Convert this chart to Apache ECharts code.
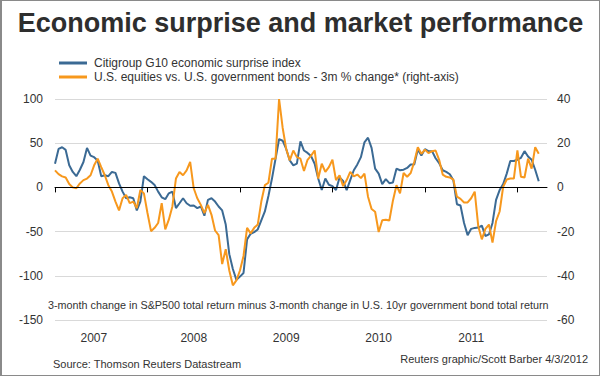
<!DOCTYPE html>
<html>
<head>
<meta charset="utf-8">
<script src="https://cdn.jsdelivr.net/npm/echarts@6/dist/echarts.min.js"></script>
<style>
  html, body { margin: 0; padding: 0; background: #fff; }
  #chart { width: 600px; height: 376px; box-sizing: border-box; border: 1px solid #8a8a8a; border-left: 2px solid #8a8a8a; }
</style>
</head>
<body>
<div id="chart"></div>
<script>
// biweekly readings, first point at start of 2007
const startYear = 2007;
const perYear = 26;

const surprise = [
  26.8, 43.5, 45.4, 42.4, 25, 17.5, 12.7, 20, 28.7, 44.7, 36, 34.2, 30.5, 12.7, 13.8, 12.7,
  17.5, 16.4, 4.5, -4.8, -12.3, -11.2, -12.3, -26, -16, 12.7, 9.3, 6.3, 2.6, -4.8, -11.2, -13.4,
  -6.7, -4.8, -23.4, -17.9, -12.3, -17.9, -20.8, -20.5, -23.4, -21.6, -32, -14.1, -12.3, -16, -21.6, -26,
  -42, -75.5, -92.3, -104.6, -100.9, -96.8, -58.8, -52.5, -50.6, -47.6, -37.2, -27.2, -9.7, 10, 32.4, 54.7,
  52.8, 43.5, 30.5, 25, 26.8, 52, 41.7, 39, 35.4, 26.8, 10, -3, 10, 3, 1.5, -3,
  11.2, 7.4, -3, 8.2, 19.4, 26, 34.2, 51, 56.2, 44.7, 21.2, 15.6, 3.7, 9.3, 4.8, 5.6,
  21.2, 19.4, 20, 22, 26, 26, 42.8, 36, 43.2, 41, 41, 33, 27.5, 19.4, 17.5, 14.9,
  8, -19, -20.5, -40.2, -54, -46.9, -45.8, -45.4, -43.2, -55, -53.2, -40.2, -14.1, -3, 3.7, 15.6,
  29.8, 29.8, 31.3, 33.5, 41, 35, 31.3, 20, 7
];

const equitiesVsBonds = [
  7.7, 6, 5, 4.5, 1.5, 0, -0.4, 1.8, 3.3, 4, 5.5, 10, 13, 9.2, 5.5, 1,
  -1.9, -6.4, -10.4, -4.9, -3.4, -7.1, -6.4, -9.4, -1.2, -2.7, -11.6, -19.8, -18.3, -16.1, -7.1, -19,
  -14.6, -8.6, 4, 7, 5.5, 7.7, 11.5, -0.4, -4.9, -7.9, -11.6, -7.9, -12.4, -19.5, -21.6, -34.7,
  -28, -37.6, -44.3, -42.1, -37.6, -31, -18.3, -20.8, -18.3, -16.8, -6.4, 1, 2.1, 13, 13, 40,
  27, 17.4, 12.2, 16.7, 13.7, 13, 7.4, 12.5, 14.4, 16.7, 4, 10.7, 7, 9.2, 12.5, 3.3,
  5.5, 0.6, 3.3, 7, 5, 5.8, 4.2, 6.2, -4.2, -9.8, -11, -20.2, -14.9, -14.6, -15, -6,
  1, -2.7, 6.5, 4.8, 6.5, 11.5, 18.2, 15.2, 17.1, 15.5, 16.4, 16.7, 12.5, 5.8, 4.8, 4.5,
  3.5, -4.2, -5.2, -6.8, -6.8, -4.9, -1.9, -17.6, -23.5, -18.8, -16.8, -25, -15.3, -10.9, 0.3, 3.6,
  4, 4, 16.7, 4.8, 4.5, 13, 8.5, 18.2, 15.2
];

const yearTicks = [2007, 2008, 2009, 2010, 2011, 2012];
const yearLabelPos = [2007.42, 2008.5, 2009.5, 2010.5, 2011.5];

const toPairs = arr => arr.map((v, i) => [startYear + i / perYear, v]);

const txt = '#333';
const font = 'Liberation Sans, Arial, sans-serif';

const chart = echarts.init(document.getElementById('chart'), null, { renderer: 'svg' });
chart.setOption({
  animation: false,
  textStyle: { fontFamily: font },
  title: [
    { text: 'Economic surprise and market performance', left: 'center', top: 3,
      textStyle: { fontSize: 27, fontWeight: 'bold', color: '#2e2e2e', fontFamily: font } },
    { text: '3-month change in S&P500 total return minus 3-month change in U.S. 10yr government bond total return',
      left: 46, top: 298, padding: 0, textStyle: { fontSize: 10.8, fontWeight: 'normal', color: txt, fontFamily: font } },
    { text: 'Source: Thomson Reuters Datastream', left: 51, top: 357, padding: 0,
      textStyle: { fontSize: 11, fontWeight: 'normal', color: txt, fontFamily: font } },
    { text: 'Reuters graphic/Scott Barber 4/3/2012', right: 11, top: 352, padding: 0,
      textStyle: { fontSize: 11, fontWeight: 'normal', color: txt, fontFamily: font } }
  ],
  legend: {
    orient: 'vertical', left: 57, top: 56, itemGap: 2, itemWidth: 28, itemHeight: 3,
    icon: 'rect', padding: 0,
    textStyle: { fontSize: 12, color: txt, fontFamily: font, padding: [0, 0, 0, 2] },
    data: ['Citigroup G10 economic surprise index', 'U.S. equities vs. U.S. government bonds - 3m % change* (right-axis)']
  },
  grid: { left: 53, right: 52, top: 98, bottom: 55 },
  xAxis: {
    type: 'value', min: 2007, max: 2012.32,
    axisLine: { lineStyle: { color: '#000', width: 1 } },
    axisTick: { show: true, length: 5, customValues: yearTicks, lineStyle: { color: '#000' } },
    axisLabel: { customValues: yearLabelPos, formatter: v => String(Math.floor(v)),
      fontSize: 12, color: txt, margin: 12 },
    splitLine: { show: false }
  },
  yAxis: [
    { type: 'value', min: -150, max: 100, interval: 50,
      axisLine: { show: false }, axisTick: { show: false },
      axisLabel: { fontSize: 12, color: txt, margin: 12 },
      splitLine: { lineStyle: { color: '#d9d9d9', width: 1 } } },
    { type: 'value', min: -60, max: 40, interval: 20,
      axisLine: { show: false }, axisTick: { show: false },
      axisLabel: { fontSize: 12, color: txt, margin: 10 },
      splitLine: { show: false } }
  ],
  series: [
    { name: 'Citigroup G10 economic surprise index', type: 'line', yAxisIndex: 0,
      data: toPairs(surprise), showSymbol: false, symbol: 'none',
      lineStyle: { color: '#3b6a94', width: 2 }, itemStyle: { color: '#3b6a94' },
      markLine: { silent: true, symbol: 'none', label: { show: false },
        lineStyle: { color: '#000', width: 1, type: 'solid' }, data: [{ yAxis: 0 }] } },
    { name: 'U.S. equities vs. U.S. government bonds - 3m % change* (right-axis)', type: 'line', yAxisIndex: 1,
      data: toPairs(equitiesVsBonds), showSymbol: false, symbol: 'none',
      lineStyle: { color: '#f7981d', width: 2 }, itemStyle: { color: '#f7981d' } }
  ]
});
</script>
</body>
</html>
